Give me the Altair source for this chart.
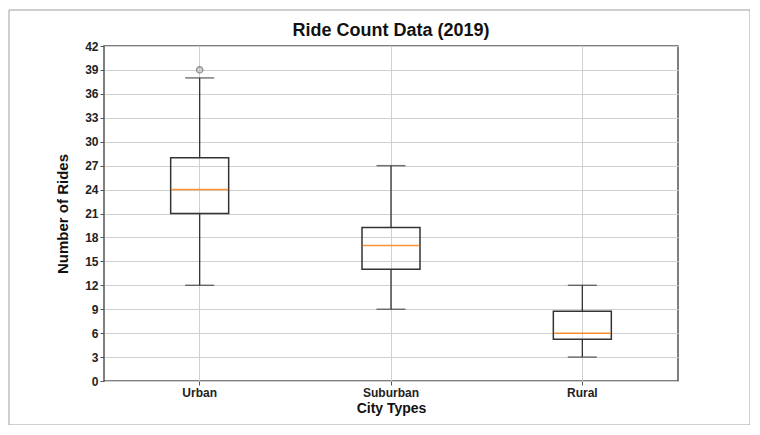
import altair as alt
import pandas as pd

cities = ["Urban", "Suburban", "Rural"]
whisker_low = [12, 9, 3]
q1 = [21, 14, 5.25]
median = [24, 17, 6]
q3 = [28, 19.25, 8.75]
whisker_high = [38, 27, 12]
outlier_city = ["Urban"]
outlier_value = [39]
y_ticks = list(range(0, 43, 3))

df = pd.DataFrame({"city": cities, "low": whisker_low, "q1": q1,
                   "median": median, "q3": q3, "high": whisker_high})
out_df = pd.DataFrame({"city": outlier_city, "value": outlier_value})

FONT = "Liberation Sans"
W, H = 574, 335

x_enc = alt.X("city:N", sort=cities, title="City Types",
              scale=alt.Scale(paddingInner=0, paddingOuter=0),
              axis=alt.Axis(labelAngle=0, bandPosition=0.5, grid=True))
y_scale = alt.Scale(domain=[0, 42], nice=False)
y_axis = alt.Axis(values=y_ticks, tickCount=30, grid=True, labelOverlap=False)

base = alt.Chart(df)

lower_whisker = base.mark_rule(color="#333333", strokeWidth=1.3).encode(
    x=x_enc,
    y=alt.Y("low:Q", scale=y_scale, axis=y_axis, title="Number of Rides"),
    y2="q1:Q")
upper_whisker = base.mark_rule(color="#333333", strokeWidth=1.3).encode(
    x=x_enc, y=alt.Y("q3:Q", scale=y_scale, axis=y_axis), y2="high:Q")
box = base.mark_bar(size=58, fill="transparent", stroke="#333333",
                    strokeWidth=1.5).encode(
    x=x_enc, y=alt.Y("q1:Q", scale=y_scale, axis=y_axis), y2="q3:Q")
med = base.mark_tick(size=57, color="#ff7f0e", thickness=1.5,
                     orient="horizontal", opacity=0.85).encode(
    x=x_enc, y=alt.Y("median:Q", scale=y_scale, axis=y_axis))
cap_low = base.mark_tick(size=29, color="#333333", thickness=1.4,
                         orient="horizontal").encode(
    x=x_enc, y=alt.Y("low:Q", scale=y_scale, axis=y_axis))
cap_high = base.mark_tick(size=29, color="#333333", thickness=1.4,
                          orient="horizontal").encode(
    x=x_enc, y=alt.Y("high:Q", scale=y_scale, axis=y_axis))
fliers = alt.Chart(out_df).mark_point(shape="circle", filled=True,
                                      fill="#c4c4c4", stroke="#666666",
                                      strokeWidth=1.3, size=40).encode(
    x=x_enc, y=alt.Y("value:Q", scale=y_scale, axis=y_axis))
frame = alt.Chart(alt.Data(values=[{}])).mark_rect(
    fill="transparent", stroke="#a0a0a0", strokeWidth=1).encode(
    x=alt.value(-95), x2=alt.value(646), y=alt.value(-36), y2=alt.value(379))

chart = alt.layer(frame, lower_whisker, upper_whisker, box, med,
                  cap_low, cap_high, fliers).properties(
    width=W, height=H,
    title=alt.TitleParams("Ride Count Data (2019)", fontSize=18,
                          fontWeight="bold", font=FONT, offset=8, dy=38,
                          anchor="middle", color="#111111"),
    autosize=alt.AutoSizeParams(type="none"),
    padding={"left": 96, "top": 38, "right": 72, "bottom": 44},
).configure_view(
    stroke="#555555", strokeWidth=1.5
).configure_axis(
    labelFont=FONT, labelFontSize=12, labelFontWeight="bold",
    labelColor="#222222", titleFont=FONT, titleFontSize=14,
    titleFontWeight="bold", titleColor="#111111",
    gridColor="#d0d0d0", gridWidth=1, domain=False,
    tickColor="#555555", tickSize=4, labelPadding=2,
).configure_axisY(
    titlePadding=14, titleFontSize=15
).configure_axisX(
    titlePadding=3
)

chart.save("out.html", embed_options={"renderer": "svg", "actions": False})
